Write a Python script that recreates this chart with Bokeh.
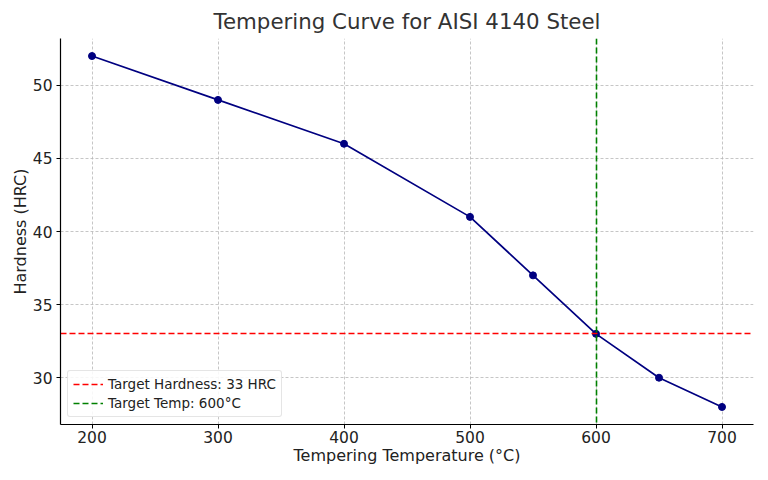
from bokeh.plotting import figure
from bokeh.models import Range1d, FixedTicker
from bokeh.embed import file_html
from bokeh.resources import INLINE

temps = [200, 300, 400, 500, 550, 600, 650, 700]
hardness = [52, 49, 46, 41, 37, 33, 30, 28]
target_hardness = 33
target_temp = 600
x_ticks = [200, 300, 400, 500, 600, 700]
y_ticks = [30, 35, 40, 45, 50]

FONT = "DejaVu Sans"

p = figure(width=768, height=480, output_backend="svg", toolbar_location=None,
           x_range=Range1d(175, 725), y_range=Range1d(26.8, 53.2),
           min_border_left=60, min_border_right=15, min_border_top=38, min_border_bottom=56)

p.title.text = "Tempering Curve for AISI 4140 Steel"
p.title.align = "center"
p.title.text_font = FONT
p.title.text_font_size = "16pt"
p.title.text_font_style = "normal"
p.title.text_color = "#333333"
p.title.offset = 0

p.outline_line_color = None
p.background_fill_color = "white"

for ax in (p.xaxis[0], p.yaxis[0]):
    ax.axis_line_color = "black"
    ax.axis_line_width = 1.2
    ax.major_tick_line_color = "black"
    ax.major_tick_in = 0
    ax.major_tick_out = 4
    ax.minor_tick_line_color = None
    ax.major_label_text_font = FONT
    ax.major_label_text_font_size = "15.5px"
    ax.major_label_text_color = "#222222"
    ax.axis_label_text_font = FONT
    ax.axis_label_text_font_size = "16px"
    ax.axis_label_text_font_style = "normal"
    ax.axis_label_text_color = "#222222"

p.xaxis.ticker = FixedTicker(ticks=x_ticks)
p.yaxis.ticker = FixedTicker(ticks=y_ticks)
p.xaxis.axis_label = "Tempering Temperature (°C)"
p.yaxis.axis_label = "Hardness (HRC)"
p.xaxis.major_label_standoff = 2
p.yaxis.major_label_standoff = 4
p.xaxis.axis_label_standoff = 0
p.yaxis.axis_label_standoff = 0

p.grid.grid_line_color = "#b8b8b8"
p.grid.grid_line_dash = "3 2"
p.grid.grid_line_width = 0.8

p.line(temps, hardness, line_color="navy", line_width=1.7)
p.scatter(temps, hardness, size=7, fill_color="navy", line_color="navy")

p.hspan(y=[target_hardness], line_color="red", line_dash="6 3", line_width=1.6,
        legend_label="Target Hardness: 33 HRC")
p.vspan(x=[target_temp], line_color="green", line_dash="6 3", line_width=1.6,
        legend_label="Target Temp: 600°C")

lg = p.legend[0]
lg.location = "bottom_left"
lg.margin = 7
lg.padding = 5
lg.spacing = 3
lg.label_text_font = FONT
lg.label_text_font_size = "13.5px"
lg.label_text_color = "#222222"
lg.glyph_width = 30
lg.glyph_height = 16
lg.label_height = 16
lg.border_line_color = "#cccccc"
lg.border_radius = 3
lg.background_fill_alpha = 0.85

open("out.html", "w").write(file_html(p, INLINE))
